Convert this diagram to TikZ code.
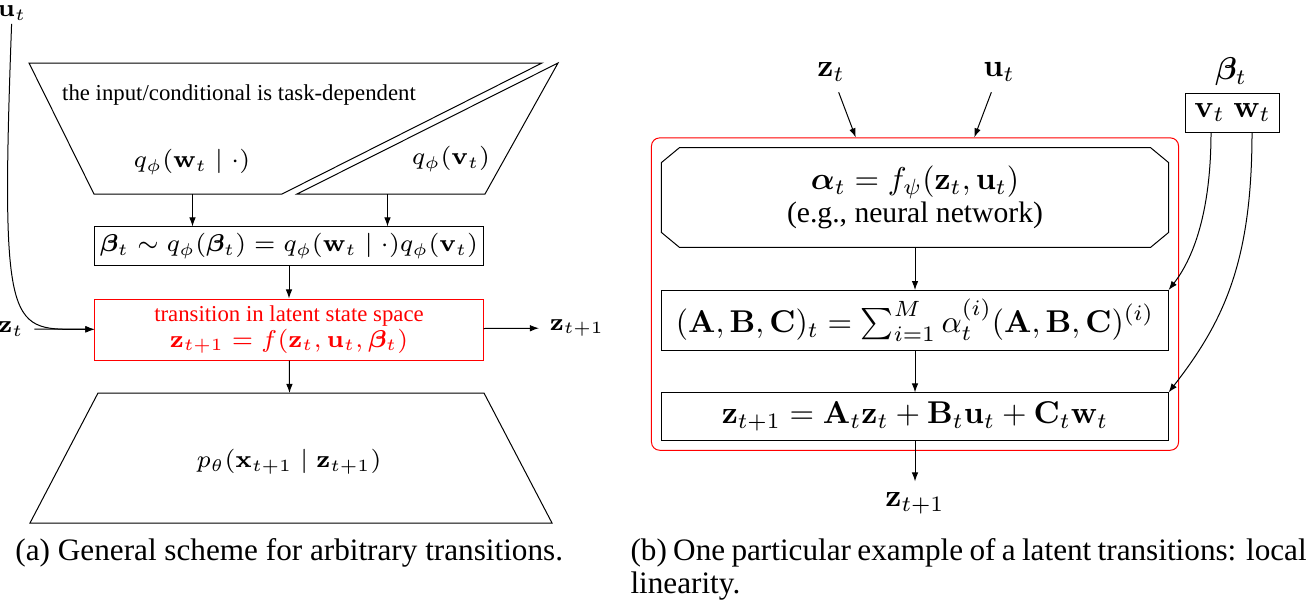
\RequirePackage{fix-cm}
\documentclass[tikz,border=0pt]{standalone}
\usepackage{amsmath,bm}
\usepackage[no-math]{fontspec}
\setmainfont{Liberation Serif}
\DeclareMathSizes{7.3}{7.8}{5.46}{3.9}
\DeclareMathSizes{9.5}{10.1}{7.07}{5.05}
\usetikzlibrary{positioning,fit,arrows.meta}

\begin{document}
\begin{tikzpicture}[-,>={Latex[length=2.9pt,width=2.1pt]},x=0.3205pt,y=-0.3205pt,line width=0.32pt,
    lfont/.style={font=\fontsize{7.3}{8.3}\selectfont},
    rfont/.style={font=\fontsize{9.5}{9}\selectfont},
    box/.style={draw,rectangle,inner sep=0pt,align=center},
    capfont/.style={font=\fontsize{10}{10.6}\selectfont,inner sep=0pt}]
    \useasboundingbox (0,0) rectangle (1306,604);

    % (a) general scheme
    \draw (29,63) -- (542,63) -- (282,194) -- (94,194) -- cycle;
    \draw (558,63) -- (485,194) -- (297,194) -- cycle;
    \draw (98,393) -- (484,393) -- (552,523) -- (30,523) -- cycle;
    \node[lfont] (task) at (239,95) {the input/conditional is task-dependent};
    \node[lfont] (qw) at (192,162) {$q_\phi(\mathbf{w}_t\mid\cdot)$};
    \node[lfont] (qv) at (451,159) {$q_\phi(\mathbf{v}_t)$};
    \node[lfont] (px) at (289,462) {$p_\theta(\mathbf{x}_{t+1}\mid\mathbf{z}_{t+1})$};
    \coordinate (qwout) at (192.5,194);
    \coordinate (qvout) at (387.5,194);
    \coordinate (pxin) at (289.5,393);
    \node[box,lfont,minimum width=124.4pt,minimum height=12.2pt] (beta) at (289,246)
        {$\bm{\beta}_t\sim q_\phi(\bm{\beta}_t)=q_\phi(\mathbf{w}_t\mid\cdot)q_\phi(\mathbf{v}_t)$};
    \node[box,lfont,draw=red,text=red,minimum width=124.4pt,minimum height=19.55pt] (trans) at (289,329.5)
        {transition in latent state space\\$\mathbf{z}_{t+1}=f(\mathbf{z}_t,\mathbf{u}_t,\bm{\beta}_t)$};
    \node[lfont,inner sep=1pt] (ua) at (12,13) {$\mathbf{u}_t$};
    \node[lfont] (za) at (11,329) {$\mathbf{z}_t$};
    \node[lfont] (zna) at (577,328) {$\mathbf{z}_{t+1}$};

    \path[->]
        (qwout) edge (qwout |- beta.north)
        (qvout) edge (qvout |- beta.north)
        (beta) edge (trans)
        (trans) edge (pxin)
        (za) edge (trans)
        (trans) edge (zna)
        ;
    \draw[->] (ua) .. controls (0,340) and (10,329) .. (trans.west);

    % (b) local linearity
    \node[rfont,align=center,inner sep=0pt,minimum width=162.2pt,minimum height=31.7pt] (alpha) at (915,197.5)
        {$\bm{\alpha}_t=f_\psi(\mathbf{z}_t,\mathbf{u}_t)$\\(e.g., neural network)};
    \draw ([xshift=5.8pt]alpha.north west) -- ([xshift=-5.8pt]alpha.north east)
        -- ([yshift=-4.8pt]alpha.north east) -- ([yshift=4.8pt]alpha.south east)
        -- ([xshift=-5.8pt]alpha.south east) -- ([xshift=5.8pt]alpha.south west)
        -- ([yshift=4.8pt]alpha.south west) -- ([yshift=-4.8pt]alpha.north west) -- cycle;
    \node[box,rfont,minimum width=162.2pt,minimum height=19.2pt] (abc) at (915,320.5)
        {$(\mathbf{A},\mathbf{B},\mathbf{C})_t=\sum_{i=1}^M\alpha_t^{(i)}(\mathbf{A},\mathbf{B},\mathbf{C})^{(i)}$};
    \node[box,rfont,minimum width=162.2pt,minimum height=15.1pt] (zb) at (915,416.5)
        {$\mathbf{z}_{t+1}=\mathbf{A}_t\mathbf{z}_t+\mathbf{B}_t\mathbf{u}_t+\mathbf{C}_t\mathbf{w}_t$};
    \node[draw=red,rounded corners=2.6pt,fit=(alpha)(zb),inner xsep=3.2pt,inner ysep=3.1pt] (frame) {};
    \node[rfont] (zr) at (831,72) {$\mathbf{z}_t$};
    \node[rfont] (ur) at (999,72) {$\mathbf{u}_t$};
    \node[rfont] (br) at (1231,72) {$\bm{\beta}_t$};
    \node[box,rfont,minimum width=30.4pt,minimum height=12.5pt] (vw) at (1232.5,112.5) {$\mathbf{v}_t\;\mathbf{w}_t$};
    \coordinate (vout) at (1211,132);
    \coordinate (wout) at (1252,132);
    \node[rfont] (znb) at (915,503) {$\mathbf{z}_{t+1}$};

    \path[->]
        (zr) edge ([xshift=-19pt]frame.north)
        (ur) edge ([xshift=19pt]frame.north)
        (alpha) edge (abc)
        (abc) edge (zb)
        (zb) edge (znb)
        ;
    \draw[->] (vout) .. controls (1211,215) and (1192,260) .. (abc.north east);
    \draw[->] (wout) .. controls (1252,260) and (1225,320) .. (zb.north east);

    \node[capfont,anchor=base west] (capa) at (15,560) {(a) General scheme for arbitrary transitions.};
    \node[capfont,anchor=base west,text width=216.7pt,align=justify] (capb) at (630,560)
        {\hyphenpenalty=10000 (b) One particular example of a latent transitions: local linearity.};
\end{tikzpicture}
\end{document}
